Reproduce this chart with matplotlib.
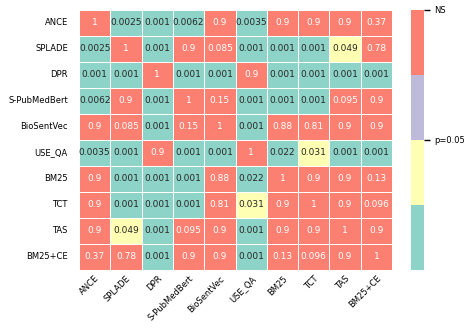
import numpy as np
import matplotlib
matplotlib.use("Agg")
import matplotlib.pyplot as plt
import seaborn as sns
from matplotlib.colors import ListedColormap, BoundaryNorm, Normalize
from matplotlib.cm import ScalarMappable

models = ["ANCE", "SPLADE", "DPR", "S-PubMedBert", "BioSentVec",
          "USE_QA", "BM25", "TCT", "TAS", "BM25+CE"]

# pairwise p-values (symmetric)
row_ance = [1, 0.0025, 0.001, 0.0062, 0.9, 0.0035, 0.9, 0.9, 0.9, 0.37]
row_splade = [0.0025, 1, 0.001, 0.9, 0.085, 0.001, 0.001, 0.001, 0.049, 0.78]
row_dpr = [0.001, 0.001, 1, 0.001, 0.001, 0.9, 0.001, 0.001, 0.001, 0.001]
row_spubmed = [0.0062, 0.9, 0.001, 1, 0.15, 0.001, 0.001, 0.001, 0.095, 0.9]
row_biosent = [0.9, 0.085, 0.001, 0.15, 1, 0.001, 0.88, 0.81, 0.9, 0.9]
row_useqa = [0.0035, 0.001, 0.9, 0.001, 0.001, 1, 0.022, 0.031, 0.001, 0.001]
row_bm25 = [0.9, 0.001, 0.001, 0.001, 0.88, 0.022, 1, 0.9, 0.9, 0.13]
row_tct = [0.9, 0.001, 0.001, 0.001, 0.81, 0.031, 0.9, 1, 0.9, 0.096]
row_tas = [0.9, 0.049, 0.001, 0.095, 0.9, 0.001, 0.9, 0.9, 1, 0.9]
row_bm25ce = [0.37, 0.78, 0.001, 0.9, 0.9, 0.001, 0.13, 0.096, 0.9, 1]

pvals = np.array([row_ance, row_splade, row_dpr, row_spubmed, row_biosent,
                  row_useqa, row_bm25, row_tct, row_tas, row_bm25ce])

colors = ["#8dd3c7", "#ffffb3", "#bebada", "#fb8072"]
cmap = ListedColormap(colors)
norm = BoundaryNorm([0, 0.025, 0.05, 0.06, 1.01], cmap.N)

fig = plt.figure(figsize=(4.74, 3.32), dpi=100)
ax = fig.add_axes([0.1667, 0.187, 0.6603, 0.783])
cax = fig.add_axes([0.867, 0.187, 0.0274, 0.783])

sns.heatmap(pvals, ax=ax, cmap=cmap, norm=norm, annot=True, fmt="g",
            annot_kws={"fontsize": 6.5}, linewidths=0.5, linecolor="white",
            cbar=False, xticklabels=models, yticklabels=models)

ax.tick_params(axis="both", length=0, labelsize=6)
ax.tick_params(axis="y", pad=8)
ax.tick_params(axis="x", pad=3)
plt.setp(ax.get_yticklabels(), rotation=0)
plt.setp(ax.get_xticklabels(), rotation=45, ha="right", rotation_mode="anchor")

sm = ScalarMappable(norm=Normalize(0, 1), cmap=cmap)
cb = fig.colorbar(sm, cax=cax)
cb.outline.set_visible(False)
cb.set_ticks([0.5, 1.0])
cb.set_ticklabels(["p=0.05", "NS"])
cb.ax.tick_params(labelsize=6, length=4, width=1)

fig.savefig("out.png", dpi=100)
